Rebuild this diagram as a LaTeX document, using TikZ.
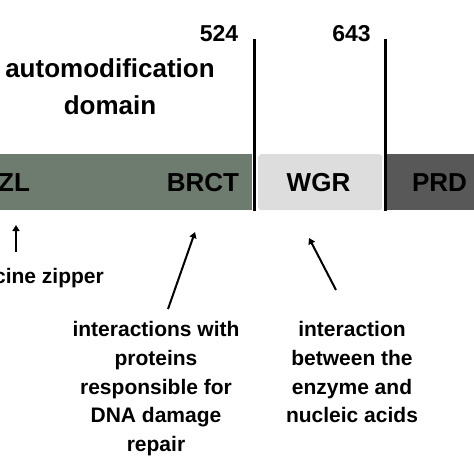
\documentclass[tikz,border=0pt]{standalone}
\usepackage{fontspec}
\setmainfont{Liberation Sans}
\usetikzlibrary{positioning}
\usetikzlibrary{arrows.meta}
\definecolor{lzgreen}{RGB}{110,124,112}
\definecolor{wgrgray}{RGB}{221,221,221}
\definecolor{prdgray}{RGB}{88,88,88}
\tikzset{
    dombox/.style = {rectangle, draw=none, inner sep=0pt, minimum height=56pt, anchor=north west},
    domtext/.style = {inner sep=0pt, font=\fontsize{26}{30}\selectfont\bfseries, text=black},
    numtext/.style = {inner sep=0pt, font=\fontsize{23}{27}\selectfont\bfseries, text=black},
    notetext/.style = {inner sep=0pt, align=center, font=\fontsize{21}{28.8}\selectfont\bfseries, text=black},
    edgen/.style = {-, line width=3pt, black},
    edgea/.style = {-{Triangle[length=6pt,width=7pt]}, line width=2pt, black}
}

\begin{document}
\begin{tikzpicture}[x=1pt, y=-1pt]
  \useasboundingbox (0,0) rectangle (474,474);
  % domain bar
  \node[dombox, fill=lzgreen, minimum width=252pt] (lz) at (0,154) {};
  \node[dombox, fill=wgrgray, rounded corners=3pt, minimum width=124pt] (wgr) at (258,154) {};
  \node[dombox, fill=prdgray, minimum width=90pt] (prd) at (387,154) {};
  \node[domtext, anchor=base west] (zl) at (-2,191) {ZL};
  \node[domtext, anchor=base] (brct) at (203,191) {BRCT};
  \node[domtext, anchor=base] (wgrlbl) at (318.5,191) {WGR};
  \node[domtext, anchor=base] (prdlbl) at (439.5,191) {PRD};
  % borders
  \coordinate (top524) at (254.5,39);
  \coordinate (bot524) at (254.5,211);
  \coordinate (top643) at (385,39);
  \coordinate (bot643) at (385,211);
  \draw[edgen] (top524) -- (bot524);
  \draw[edgen] (top643) -- (bot643);
  \node[numtext, anchor=base] (n524) at (219,41.7) {524};
  \node[numtext, anchor=base] (n643) at (351.5,41.7) {643};
  \node[domtext, anchor=base] (automod) at (110,77) {automodification};
  \node[domtext, anchor=base] (autodom) at (110,114) {domain};
  % notes
  \node[notetext, anchor=base east] (zipper) at (104,283) {cine zipper};
  \node[notetext, anchor=north] (repair) at (156,321) {interactions with\\proteins\\responsible for\\DNA damage\\repair};
  \node[notetext, anchor=north] (nucleic) at (352,321) {interaction\\between the\\enzyme and\\nucleic acids};
  % arrows
  \coordinate (zlfoot) at (16,252);
  \coordinate (zltip) at (16,225);
  \coordinate (brctfoot) at (168,309);
  \coordinate (brcttip) at (195,232);
  \coordinate (wgrfoot) at (336,290);
  \coordinate (wgrtip) at (309,238);
  \draw[edgea] (zlfoot) -- (zltip);
  \draw[edgea] (brctfoot) -- (brcttip);
  \draw[edgea] (wgrfoot) -- (wgrtip);
\end{tikzpicture}
\end{document}
